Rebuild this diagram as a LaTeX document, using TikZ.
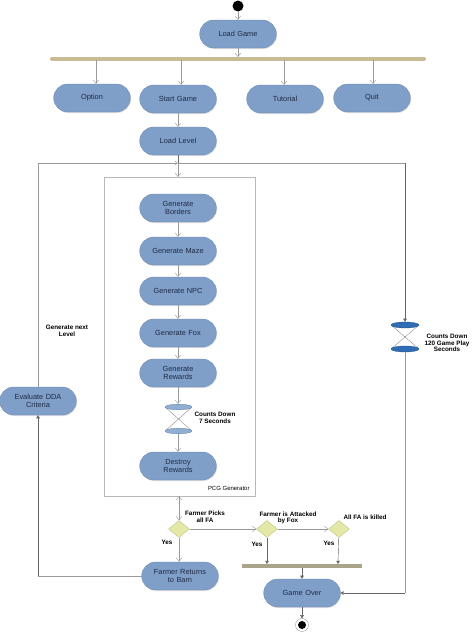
\documentclass[tikz,border=0pt]{standalone}
\usepackage{fontspec}
\setmainfont{Liberation Sans}
\usetikzlibrary{arrows.meta,shapes.geometric,shadows}

\definecolor{actfill}{HTML}{7F9FC8}
\definecolor{actline}{HTML}{6A87AE}
\definecolor{acttext}{HTML}{1E2A44}
\definecolor{flowline}{HTML}{9A9A9A}
\definecolor{forkbar}{HTML}{C9BB93}
\definecolor{joinbar}{HTML}{A9A48A}
\definecolor{decfill}{HTML}{E4E8A6}
\definecolor{decline}{HTML}{B9BD7A}
\definecolor{timerdark}{HTML}{2F6DB5}
\definecolor{timerlight}{HTML}{8FAED3}

\begin{document}
\begin{tikzpicture}[x=0.5mm,y=-0.5mm,
    act/.style={draw=actline, fill=actfill, rounded corners=7mm, minimum width=38mm,
        minimum height=14mm, text width=36mm, align=center, text=acttext,
        font=\fontsize{10.5}{11.5}\selectfont,
        drop shadow={opacity=0.25, shadow xshift=0.4mm, shadow yshift=-0.5mm}},
    dec/.style={diamond, draw=decline, fill=decfill, minimum width=10.5mm, minimum height=8.5mm, inner sep=0pt},
    bar/.style={line width=2mm, line cap=round},
    flow/.style={draw=flowline, semithick, -{Straight Barb[length=1.8mm, width=2.8mm]}},
    darkflow/.style={draw=black!60, semithick, -{Triangle[length=1.6mm, width=1.8mm]}},
    note/.style={font=\fontsize{9}{9.5}\selectfont\bfseries, align=center},
    timer/.style={minimum width=14mm, minimum height=15mm, inner sep=0pt}]

    \useasboundingbox (0,0) rectangle (474,632);

    % start and menu
    \node[circle, fill=black, minimum size=5.5mm, inner sep=0pt] (start) at (238,6) {};
    \node[act] (load) at (238,34) {Load Game};
    \draw[bar, forkbar] (52,58.5) -- (424,58.5);
    \coordinate (f0) at (238,57);
    \coordinate (f1) at (96,60);
    \coordinate (f2) at (181,60);
    \coordinate (f3) at (284,60);
    \coordinate (f4) at (373,60);
    \node[act] (option) at (92,98) {Option};
    \node[act] (startg) at (178,99) {Start Game};
    \node[act] (tutorial) at (285,99) {Tutorial};
    \node[act] (quit) at (372,98) {Quit};
    \node[act] (level) at (178,141) {Load Level};

    % PCG generator
    \draw[flowline!70] (104,177) rectangle (255,496);
    \node[font=\fontsize{8.5}{9}\selectfont, anchor=east] (pcg) at (252,488) {PCG Generator};
    \node[act] (borders) at (178,208) {Generate\\Borders};
    \node[act] (maze) at (178,251) {Generate Maze};
    \node[act] (npc) at (178,291) {Generate NPC};
    \node[act] (fox) at (178,333) {Generate Fox};
    \node[act] (rewards) at (178,373) {Generate\\Rewards};
    \node[timer] (wait) at (178,419) {};
    \draw[black!55] (165,407) -- (192,431) (192,407) -- (165,431);
    \draw[fill=timerlight, draw=timerlight!70!black] (178.5,407) ellipse (13.5 and 2.8);
    \draw[fill=timerlight, draw=timerlight!70!black] (178.5,431) ellipse (13.5 and 2.8);
    \node[note] (waitlbl) at (215,418) {Counts Down\\7 Seconds};
    \node[act] (destroy) at (178,466) {Destroy\\Rewards};

    % game play timer
    \node[timer] (play) at (405,337) {};
    \draw[black!55] (391,325) -- (419,349) (419,325) -- (391,349);
    \draw[fill=timerdark, draw=timerdark!70!black] (405,325) ellipse (14 and 3);
    \draw[fill=timerdark, draw=timerdark!70!black] (405,349) ellipse (14 and 3);
    \node[note] (playlbl) at (447,343) {Counts Down\\120 Game Play\\Seconds};

    % end of level
    \node[dec] (picks) at (179,529) {};
    \node[dec] (attack) at (267,529) {};
    \node[dec] (killed) at (339,529) {};
    \node[note] (pickslbl) at (205,517) {Farmer Picks\\all FA};
    \node[note] (attacklbl) at (288,518) {Farmer is Attacked\\by Fox};
    \node[note] (killedlbl) at (365,517) {All FA is killed};
    \node[note] (yes1) at (167,542) {Yes};
    \node[note] (yes2) at (257,544) {Yes};
    \node[note] (yes3) at (329,543) {Yes};
    \node[act] (barn) at (180,576) {Farmer Returns\\to Barn};
    \node[act] (dda) at (38,401) {Evaluate DDA\\Criteria};
    \node[note] (nextlbl) at (67,331) {Generate next\\Level};
    \draw[bar, joinbar, line width=1.6mm, line cap=butt] (242,566) -- (362,566);
    \coordinate (j1) at (267,564);
    \coordinate (j2) at (338,564);
    \coordinate (j0) at (302,568);
    \node[act] (over) at (302,593) {Game Over};
    \node[circle, draw=black!50, fill=white, minimum size=6.5mm, inner sep=0pt] (stop) at (302,625) {};
    \node[circle, fill=black, minimum size=4mm, inner sep=0pt] at (stop) {};

    % connectors
    \coordinate (split) at (178,163);
    \coordinate (pcgtop) at (178,177);
    \coordinate (pcgbot) at (179,496);
    \path[flow]
    (start) edge (load)
    (load) edge (f0)
    (f1) edge (option.north -| f1)
    (f2) edge (startg.north -| f2)
    (f3) edge (tutorial.north -| f3)
    (f4) edge (quit.north -| f4)
    (startg) edge (level)
    (split) edge (pcgtop)
    (borders) edge (maze)
    (maze) edge (npc)
    (npc) edge (fox)
    (fox) edge (rewards)
    (rewards) edge (wait)
    (wait) edge (destroy)
    (pcgbot) edge (picks)
    (picks) edge (barn.north -| picks)
    (picks) edge (attack)
    (attack) edge (killed);
    \draw[black!55, semithick] (level) -- (split);
    \draw[flowline, semithick] (split) -| (play.north |- split);
    \draw[darkflow] (play.north |- split) -- (play.north);
    \draw[flowline, semithick] (play.south) -- (play.south |- over);
    \draw[darkflow] (play.south |- over) -- (over);
    \draw[flowline, semithick] (barn) -| (dda.south |- barn);
    \draw[darkflow] (dda.south |- barn) -- (dda.south);
    \draw[flowline, semithick, -{Straight Barb[length=1.4mm, width=2mm]}] (dda) |- (split);
    \draw[darkflow] (attack) -- (j1);
    \draw[darkflow] (killed) -- (j2);
    \draw[darkflow] (j0) -- (over);
    \draw[darkflow] (over) -- (stop);
\end{tikzpicture}
\end{document}
